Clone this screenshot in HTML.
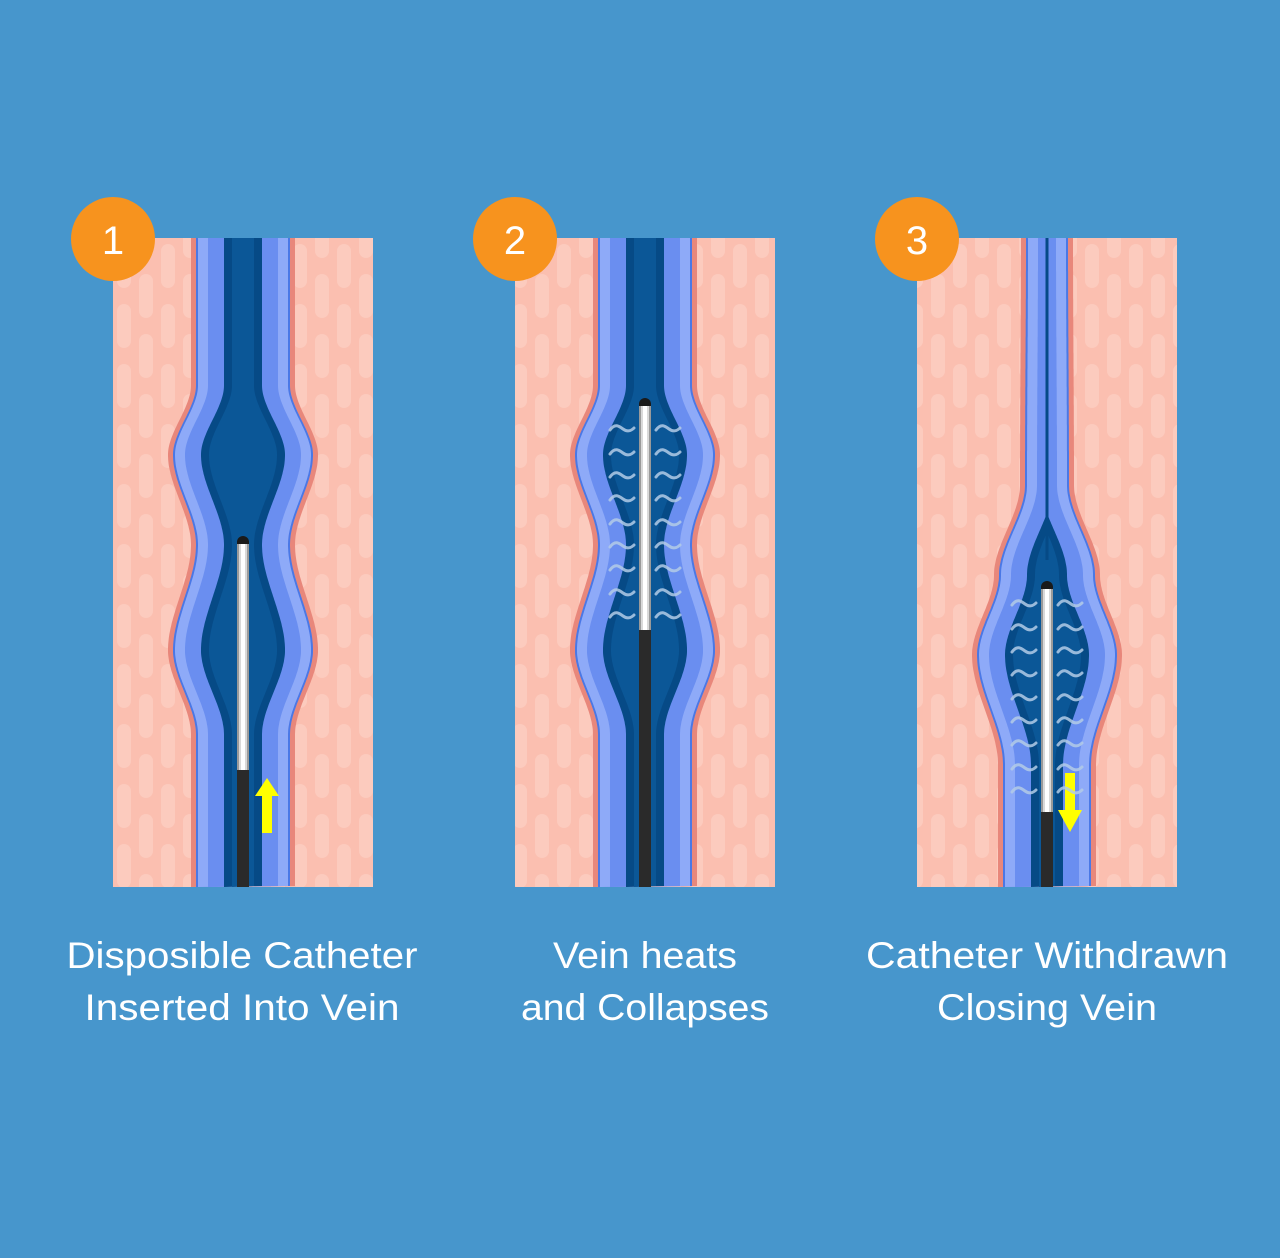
<!DOCTYPE html>
<html><head><meta charset="utf-8"><style>
html,body{margin:0;padding:0;background:#4796cc;}
svg{display:block;}
text{font-family:"Liberation Sans",sans-serif;fill:#fff;}
</style></head><body>
<svg id="s" width="1280" height="1258" viewBox="0 0 1280 1258" xmlns="http://www.w3.org/2000/svg">
<defs>
<pattern id="pills" x="113" y="238" width="44" height="120" patternUnits="userSpaceOnUse">
<rect width="44" height="120" fill="#fbbfb0"/>
<rect x="4" y="6" width="14" height="44" rx="7" fill="#fccbbe"/>
<rect x="4" y="66" width="14" height="44" rx="7" fill="#fccbbe"/>
<rect x="26" y="36" width="14" height="44" rx="7" fill="#fccbbe"/>
<rect x="26" y="-24" width="14" height="44" rx="7" fill="#fccbbe"/>
<rect x="26" y="96" width="14" height="44" rx="7" fill="#fccbbe"/>
</pattern>
<path id="sq" d="M-12,2 C-7,-5 -3,-2 1,1 C5,4 9,3 12,0" fill="none" stroke="#b3cbe6" stroke-width="3" stroke-linecap="round" opacity="0.85"/>
</defs>
<rect width="1280" height="1258" fill="#4796cc"/>
<rect x="113" y="238" width="260" height="649" fill="url(#pills)"/>
<rect x="515" y="238" width="260" height="649" fill="url(#pills)"/>
<rect x="917" y="238" width="260" height="649" fill="url(#pills)"/>
<g id="veins"></g>
<g id="over"></g>
<circle cx="113" cy="239" r="42" fill="#f7931e"/>
<circle cx="515" cy="239" r="42" fill="#f7931e"/>
<circle cx="917" cy="239" r="42" fill="#f7931e"/>
<text x="113" y="254" font-size="40" text-anchor="middle">1</text>
<text x="515" y="254" font-size="40" text-anchor="middle">2</text>
<text x="917" y="254" font-size="40" text-anchor="middle">3</text>
<text x="242" y="968" font-size="37" text-anchor="middle" textLength="351" lengthAdjust="spacingAndGlyphs">Disposible Catheter</text>
<text x="242" y="1020" font-size="37" text-anchor="middle" textLength="315" lengthAdjust="spacingAndGlyphs">Inserted Into Vein</text>
<text x="645" y="968" font-size="37" text-anchor="middle" textLength="184" lengthAdjust="spacingAndGlyphs">Vein heats</text>
<text x="645" y="1020" font-size="37" text-anchor="middle" textLength="248" lengthAdjust="spacingAndGlyphs">and Collapses</text>
<text x="1047" y="968" font-size="37" text-anchor="middle" textLength="362" lengthAdjust="spacingAndGlyphs">Catheter Withdrawn</text>
<text x="1047" y="1020" font-size="37" text-anchor="middle" textLength="220" lengthAdjust="spacingAndGlyphs">Closing Vein</text>
</svg>
<script>
var NS="http://www.w3.org/2000/svg";
var veins=document.getElementById('veins'),over=document.getElementById('over');
function el(p,tag,a){var e=document.createElementNS(NS,tag);for(var k in a)e.setAttribute(k,a[k]);p.appendChild(e);return e;}
function prof(knots,y){
 if(y<=knots[0][0])return knots[0][1];
 for(var i=0;i<knots.length-1;i++){var a=knots[i],b=knots[i+1];
  if(y<=b[0]){var t=(y-a[0])/(b[0]-a[0]);t=t*t*(3-2*t);return a[1]+(b[1]-a[1])*t;}}
 return knots[knots.length-1][1];
}
function shape(cx,knots,off,fill){
 var L=[],R=[];
 for(var y=238;y<=887;y+=2){var w=Math.max(0,prof(knots,y)+off);L.push((cx-w).toFixed(1)+','+y);R.unshift((cx+w).toFixed(1)+','+y);}
 L.push((cx-Math.max(0,prof(knots,887)+off)).toFixed(1)+',887');
 el(veins,'polygon',{points:L.concat(R).join(' '),fill:fill});
}
function vein(cx,knots){
 shape(cx,knots,5,'#e8877b');
 shape(cx,knots,0,'#4a78e6');
 shape(cx,knots,-2,'#8eaaf8');
 shape(cx,knots,-12,'#6a8ef0');
 shape(cx,knots,-28,'#064a86');
 shape(cx,knots,-36,'#0b5797');
}
var k1=[[238,47],[385,47],[455,70],[545,47],[650,70],[735,47],[887,47]];
vein(243,k1);vein(645,k1);
var k3=[[238,21],[485,22],[575,48],[655,70],[765,44],[887,44]];
vein(1047,k3);
el(veins,'line',{x1:1047,y1:238,x2:1047,y2:560,stroke:'#064a86','stroke-width':3});
function cath(cx,tip,wEnd){
 el(over,'rect',{x:cx-6,y:wEnd,width:12,height:887-wEnd,fill:'#2a2a2a'});
 el(over,'rect',{x:cx-6,y:tip+4,width:12,height:wEnd-tip-4,fill:'#d9d9d9'});
 el(over,'rect',{x:cx-2,y:tip+4,width:4,height:wEnd-tip-4,fill:'#ffffff'});
 el(over,'rect',{x:cx-6,y:tip+4,width:2,height:wEnd-tip-4,fill:'#9a9a9a'});
 el(over,'rect',{x:cx+4,y:tip+4,width:2,height:wEnd-tip-4,fill:'#9a9a9a'});
 el(over,'path',{d:'M'+(cx-6)+','+(tip+6)+' v-2 a6,6 0 0 1 12,0 v2 z',fill:'#1a1a1a'});
}
cath(243,538,770);cath(645,400,630);cath(1047,583,812);
el(over,'path',{d:'M262,833 h10 v-37 h7 l-12,-18 l-12,18 h7 z',fill:'#ffff00'});
el(over,'path',{d:'M1065,773 h10 v37 h7 l-12,22 l-12,-22 h7 z',fill:'#ffff00'});
function sq(x,y){el(over,'use',{href:'#sq',x:x,y:y});}
[428,452,475,498,522,545,568,592,615].forEach(function(y){sq(622,y);sq(668,y);});
[603,627,650,673,697,720,743,767,790].forEach(function(y){sq(1024,y);sq(1070,y);});
</script>
</body></html>
